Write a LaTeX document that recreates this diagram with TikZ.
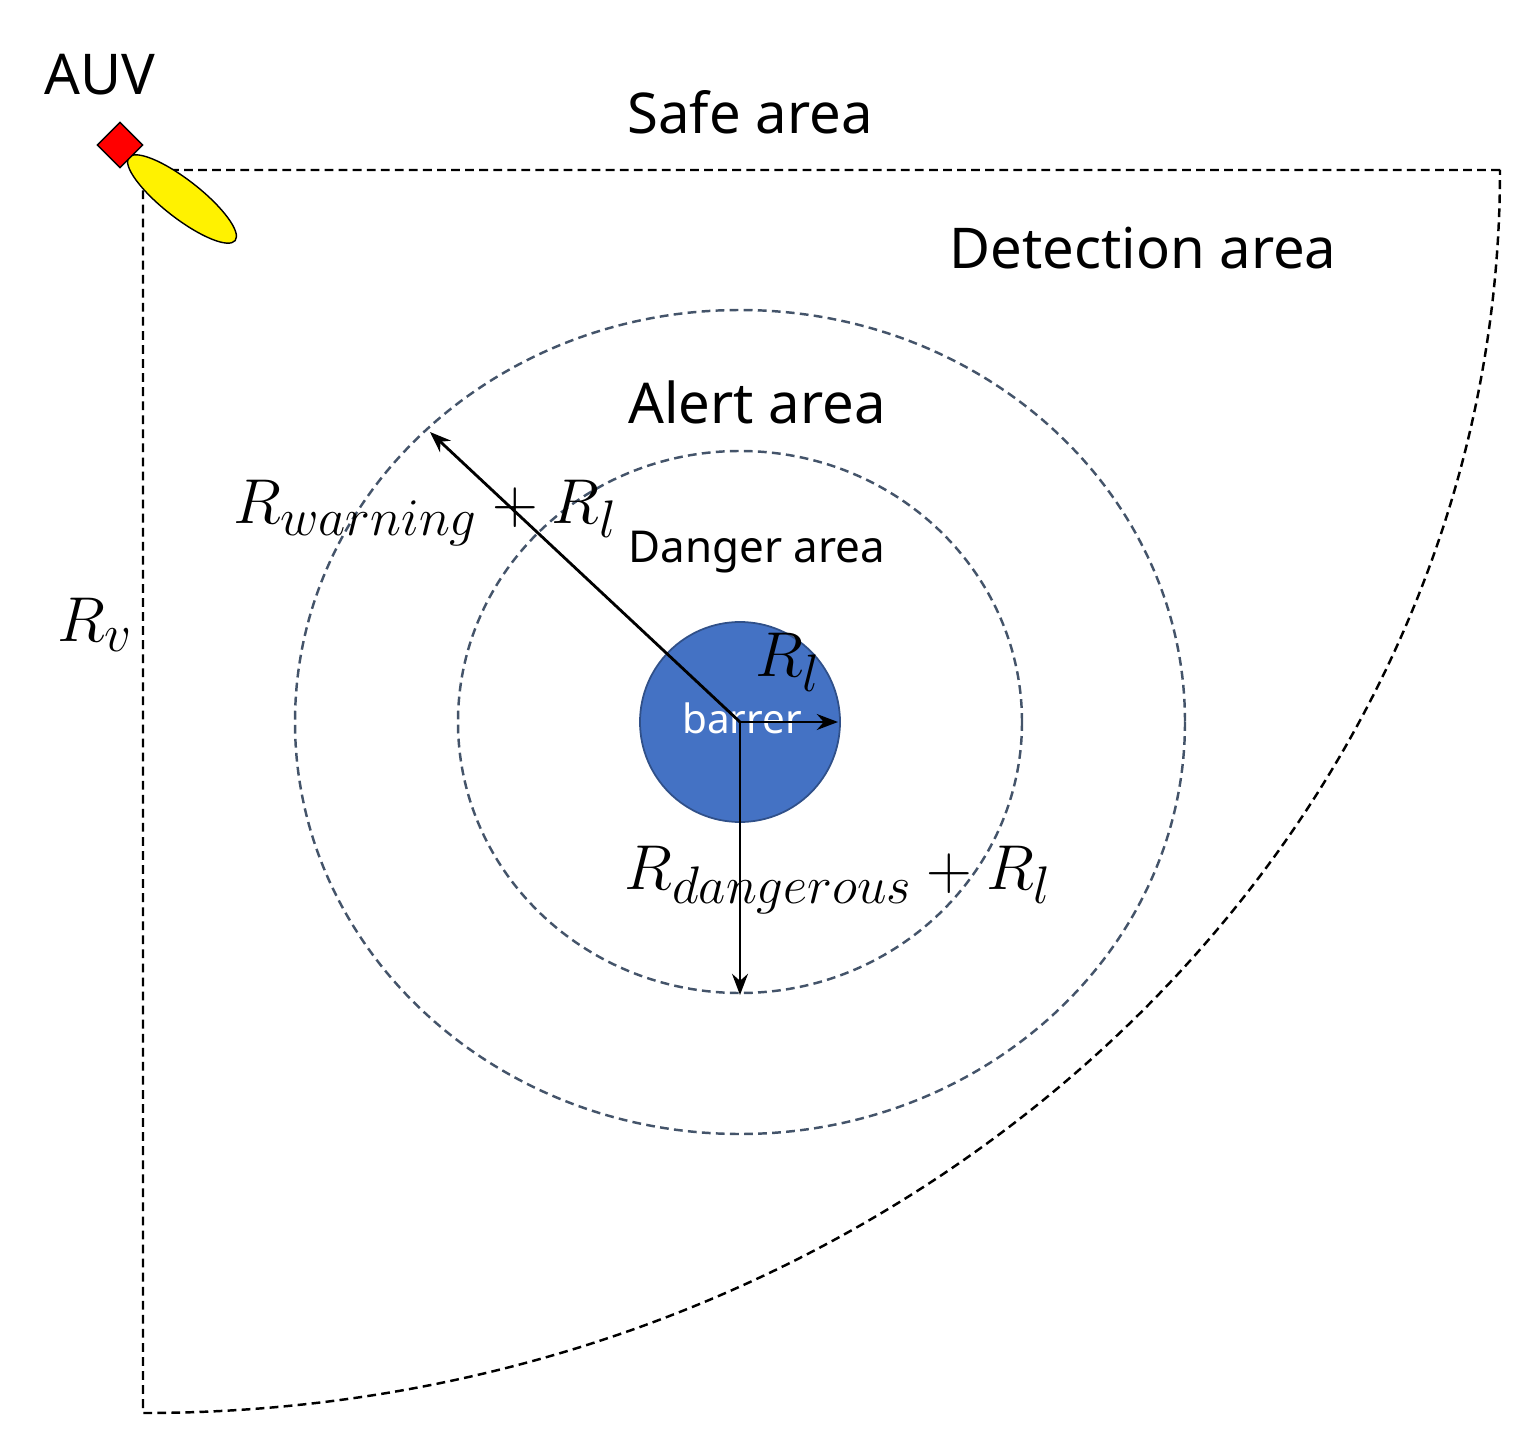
\documentclass[tikz,border=0pt]{standalone}
\usepackage{fontspec}
\setmainfont{Noto Sans}
\usetikzlibrary{shapes.geometric, arrows, arrows.meta}
\definecolor{barrblue}{HTML}{4472C4}
\definecolor{ringgray}{HTML}{44546A}
\tikzstyle{zone} = [ringgray, line width=1.4pt, dash pattern=on 5pt off 3pt]
\tikzstyle{bound} = [black, line width=1.4pt, dash pattern=on 5pt off 3pt]
\tikzstyle{arealabel} = [font=\fontsize{32}{38}\selectfont]
\tikzstyle{mathlabel} = [font=\fontsize{24.88}{30}\selectfont]
\tikzstyle{arrow} = [line width=1.6pt,-{Stealth[length=12pt,width=9pt]}]
\newcommand{\bigmath}[1]{\scalebox{1.45}{$#1$}}

\begin{document}
\begin{tikzpicture}[x=0.02cm, y=-0.02cm]
	\useasboundingbox (0,0) rectangle (1525,1449);
	% detection sector
	\coordinate (corner) at (143,170);
	\draw [bound] (1500,170) -- (corner) -- (143,1413) arc[start angle=270, end angle=360, x radius=1357, y radius=-1243];
	% rings and barrier
	\coordinate (c) at (740,722);
	\draw [zone] (c) ellipse [x radius=445, y radius=412];
	\draw [zone] (c) ellipse [x radius=282, y radius=271];
	\node (bar) [circle, draw=barrblue!70!black, fill=barrblue, line width=1pt, minimum size=200*0.02cm, inner sep=0pt] at (c) {};
	\node (barrer) [text=white, font=\bfseries\fontsize{23}{28}\selectfont] at (742,718) {barrer};
	\coordinate (warn) at (430,432);
	\coordinate (lim) at (838,722);
	\coordinate (dang) at (740,995);
		\draw [arrow] (c) -- (warn);
		\draw [arrow] (c) -- (lim);
		\draw [arrow] (c) -- (dang);
	% AUV
	\node (body) [ellipse, draw=black, fill=yellow, minimum width=135*0.02cm, minimum height=38*0.02cm, rotate=-38, line width=0.8pt] at (182,199) {};
	\node (nose) [diamond, draw=black, fill=red, minimum size=46*0.02cm, inner sep=0pt, line width=0.8pt] at (120,145) {};
	% labels
	\node (auv) [arealabel] at (100,75) {AUV};
	\node (safe) [arealabel] at (750,112) {Safe area};
	\node (detect) [arealabel] at (1143,248) {Detection area};
	\node (alert) [arealabel] at (757,402) {Alert area};
	\node (danger) [font=\fontsize{25}{30}\selectfont] at (757,552) {Danger area};
	\node (rv) [mathlabel] at (95,625) {\bigmath{R_v}};
	\node (rw) [mathlabel] at (425,513) {\bigmath{R_{warning}+R_l}};
	\node (rl) [mathlabel] at (788,662) {\bigmath{R_l}};
	\node (rd) [mathlabel] at (838,880) {\bigmath{R_{dangerous}+R_l}};
\end{tikzpicture}
\end{document}
